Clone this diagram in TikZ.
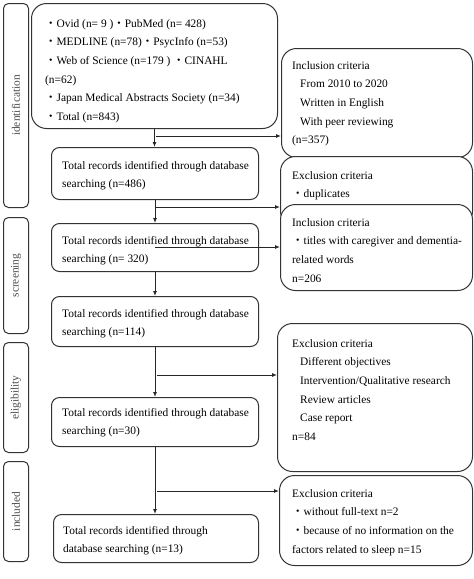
\documentclass[tikz,border=0pt]{standalone}
\usepackage{fontspec}
\setmainfont{Liberation Serif}
\newfontfamily\cjkfont{Noto Sans CJK JP}
\usetikzlibrary{arrows.meta}
\newcommand{\bul}{{\cjkfont ・}}
\newcommand{\ind}{\hspace*{8pt}}
\begin{document}
\begin{tikzpicture}[x=1pt,y=-1pt,
  box/.style={draw=black!80, line width=1pt, rounded corners=8pt, fill=white, inner sep=0pt, anchor=north west},
  bigbox/.style={box, rounded corners=15pt},
  sidebox/.style={box, rounded corners=5pt},
  txt/.style={inner sep=0pt, anchor=north west, align=left, font=\fontsize{11.4}{18.7}\selectfont},
  side/.style={rotate=90, inner sep=0pt, font=\fontsize{11.4}{13}\selectfont, text=black!70},
  arr/.style={draw=black!85, line width=0.9pt, -{Latex[length=5pt,width=4pt]}}]
\useasboundingbox (0,0) rectangle (474,579);

% side boxes
\node[sidebox, minimum width=25pt, minimum height=204pt] (s1) at (3,3) {};
\node[side] (s1t) at (s1.center) {identification};
\node[sidebox, minimum width=25pt, minimum height=116pt] (s2) at (3,217) {};
\node[side] (s2t) at (s2.center) {screening};
\node[sidebox, minimum width=25pt, minimum height=110pt] (s3) at (3,342) {};
\node[side] (s3t) at (s3.center) {eligibility};
\node[sidebox, minimum width=25pt, minimum height=100pt] (s4) at (3,461) {};
\node[side] (s4t) at (s4.center) {included};

% main column
\node[bigbox, minimum width=246pt, minimum height=125pt] (top) at (31,3) {};
\node[txt] (topt) at ([shift={(14,16)}]top.north west) {\bul Ovid (n= 9 )\bul PubMed (n= 428)\\
\bul MEDLINE (n=78)\bul PsycInfo (n=53)\\
\bul Web of Science (n=179 ) \bul CINAHL\\
(n=62)\\
\bul Japan Medical Abstracts Society (n=34)\\
\bul Total (n=843)};

\node[box, minimum width=207pt, minimum height=52pt] (b2) at (51,147) {};
\node[txt] (b2t) at ([shift={(11,14)}]b2.north west) {Total records identified through database\\searching (n=486)};

\node[box, minimum width=207pt, minimum height=48pt] (b3) at (51,223) {};
\node[txt] (b3t) at ([shift={(11,13)}]b3.north west) {Total records identified through database\\searching (n= 320)};

\node[box, minimum width=207pt, minimum height=50pt] (b4) at (51,296) {};
\node[txt] (b4t) at ([shift={(11,13)}]b4.north west) {Total records identified through database\\searching (n=114)};

\node[box, minimum width=207pt, minimum height=49pt] (b5) at (51,397) {};
\node[txt] (b5t) at ([shift={(11,11)}]b5.north west) {Total records identified through database\\searching (n=30)};

\node[box, minimum width=205pt, minimum height=48pt] (b6) at (53,514) {};
\node[txt] (b6t) at ([shift={(10,12)}]b6.north west) {Total records identified through\\database searching (n=13)};

% right column
\node[bigbox, minimum width=191pt, minimum height=109pt] (r1) at (281,48) {};
\node[txt] (r1t) at ([shift={(11,13)}]r1.north west) {Inclusion criteria\\
\ind From 2010 to 2020\\
\ind Written in English\\
\ind With peer reviewing\\
(n=357)};

\node[bigbox, minimum width=192pt, minimum height=70pt] (r2) at (280,156) {};
\node[txt] (r2t) at ([shift={(12,15)}]r2.north west) {Exclusion criteria\\
\bul duplicates};

\node[bigbox, minimum width=192pt, minimum height=86pt] (r3) at (280,204) {};
\node[txt] (r3t) at ([shift={(12,14)}]r3.north west) {Inclusion criteria\\
\bul titles with caregiver and dementia-\\
related words\\
n=206};

\node[bigbox, minimum width=195pt, minimum height=148pt] (r4) at (277,323) {};
\node[txt] (r4t) at ([shift={(15,16)}]r4.north west) {Exclusion criteria\\
\ind Different objectives\\
\ind Intervention/Qualitative research\\
\ind Review articles\\
\ind Case report\\
n=84};

\node[bigbox, minimum width=193pt, minimum height=90pt] (r5) at (279,475) {};
\node[txt] (r5t) at ([shift={(13,14)}]r5.north west) {Exclusion criteria\\
\bul without full-text n=2\\
\bul because of no information on the\\
factors related to sleep n=15};

% connectors
\draw[arr] (top.south) -- (top.south |- b2.north);
\draw[arr] (b2.south) -- (b2.south |- b3.north);
\draw[arr] (b3.south) -- (b3.south |- b4.north);
\draw[arr] (b4.south) -- (b4.south |- b5.north);
\draw[arr] (b5.south) -- (b5.south |- b6.north);

\coordinate (c1) at (156,136);
\coordinate (c2) at (156,207);
\coordinate (c3) at (155,247);
\coordinate (c4) at (157,375);
\coordinate (c5) at (157,491);
\draw[arr] (c1) -- (c1 -| r1.west);
\draw[arr] (c2) -- (c2 -| r2.west);
\draw[arr] (c3) -- (c3 -| r3.west);
\draw[arr] (c4) -- (c4 -| r4.west);
\draw[arr] (c5) -- (c5 -| r5.west);
\end{tikzpicture}
\end{document}
